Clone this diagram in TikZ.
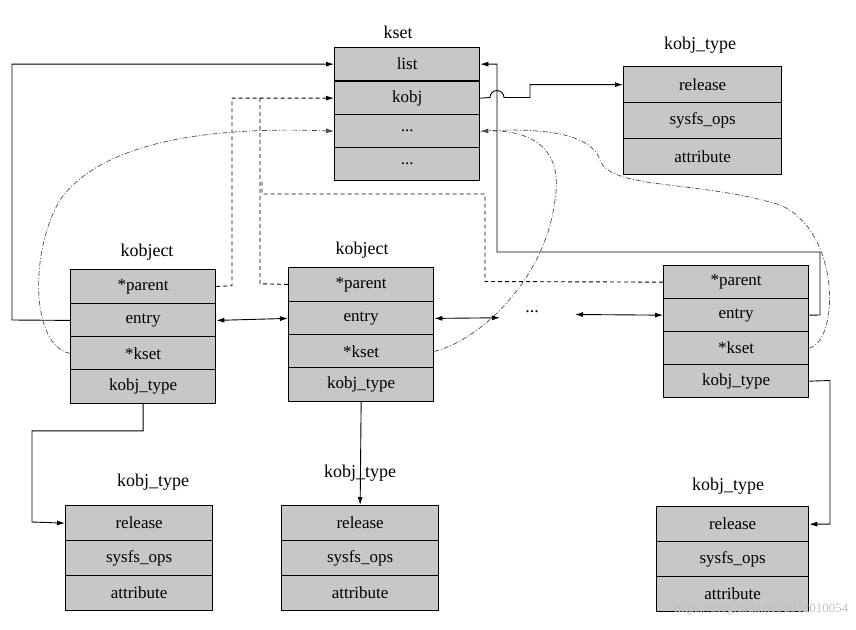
\documentclass[tikz,border=0pt]{standalone}
\usepackage{fontspec}
\setmainfont{Liberation Serif}
\usetikzlibrary{arrows.meta}
\def\tdots{...}
\begin{document}
\begin{tikzpicture}[x=1pt,y=-1pt,
 cell/.style={draw,line width=1.3pt,fill=black!22,anchor=north west,inner sep=0,font=\fontsize{17}{17}\selectfont},
 ttl/.style={font=\fontsize{18}{18}\selectfont},
 ln/.style={line width=0.9pt},
 ar/.style={ln,-{Latex[length=8pt,width=5pt]}},
 dar/.style={ln,{Latex[length=8pt,width=5pt]}-{Latex[length=8pt,width=5pt]}},
 dsh/.style={ln,dashed,dash pattern=on 4pt off 3pt},
 dd/.style={line width=0.7pt,black!70,dash pattern=on 5pt off 2pt on 1pt off 2pt}]
\useasboundingbox (0,0) rectangle (856,629);
% kset
\node[ttl] (tks) at (398,32) {kset};
\foreach \n/\t/\y in {kl/list/47,kk/kobj/81,kd1/\tdots/114,kd2/\tdots/147}
  \node[cell,minimum width=145,minimum height=33] (\n) at (334,\y) {\t};
% top kobj_type
\node[ttl] (tkt) at (700,45) {kobj\_type};
\foreach \n/\t/\y in {tr/release/66,ts/sysfs\_ops/102,ta/attribute/138}
  \node[cell,minimum width=158,minimum height=36] (\n) at (623,\y) {\t};
% kobjects
\node[ttl] (to1) at (147,252) {kobject};
\foreach \n/\t/\y in {a1/*parent/269,a2/entry/303,a3/*kset/336,a4/kobj\_type/369}
  \node[cell,minimum width=145,minimum height=33.5] (\n) at (70,\y) {\t};
\node[ttl] (to2) at (362,250) {kobject};
\foreach \n/\t/\y in {b1/*parent/267,b2/entry/301,b3/*kset/334,b4/kobj\_type/367}
  \node[cell,minimum width=145,minimum height=33.5] (\n) at (288,\y) {\t};
\foreach \n/\t/\y in {c1/*parent/265,c2/entry/298,c3/*kset/331,c4/kobj\_type/364}
  \node[cell,minimum width=145,minimum height=33] (\n) at (663,\y) {\t};
\node[ttl] (dots) at (532,312) {\tdots};
% bottom kobj_types
\node[ttl] (t1) at (153,482) {kobj\_type};
\foreach \n/\t/\y in {d1/release/505,d2/sysfs\_ops/540,d3/attribute/575}
  \node[cell,minimum width=147,minimum height=35] (\n) at (65,\y) {\t};
\node[ttl] (t2) at (360,473) {kobj\_type};
\foreach \n/\t/\y in {e1/release/505,e2/sysfs\_ops/540,e3/attribute/575}
  \node[cell,minimum width=157,minimum height=35] (\n) at (281,\y) {\t};
\node[ttl] (t3) at (728,486) {kobj\_type};
\foreach \n/\t/\y in {f1/release/506,f2/sysfs\_ops/541,f3/attribute/576}
  \node[cell,minimum width=152,minimum height=35] (\n) at (656,\y) {\t};
\node[text=black!25,font=\fontsize{13}{13}\selectfont,anchor=east] (wm) at (852,609) {https://blog.csdn.net/u012010054};
% solid connectors
\draw[ar] (a2.west) -- (12,320) |- (kl.west);
\draw[ar] (c2.east) -- (820,315) |- (497,252) |- (kl.east);
\draw[ar] (kk.east) -- (490,97.5) arc[start angle=180,end angle=360,radius=7] -- (530,97.5) |- (tr.west);
\draw[dar] (a2.east) -- (b2.west);
\draw[dar] (b2.east) -- (500,317.75);
\draw[dar] (575,314.5) -- (c2.west);
\draw[ar] (a4.south) -- ++(0,27) -| (32,522) -- (d1.west);
\draw[ar] (b4.south) -- (e1.north);
\draw[ar] (c4.east) -- (830,380.5) |- (f1.east);
% dashed parent
\draw[dsh,-{Latex[length=8pt,width=5pt]}] (a1.east) -- (232,285.75) |- (kk.west);
\draw[dsh] (b1.west) -- (260,283.75) -- (260,97.5);
\draw[dsh] (c1.west) -- (485,281.5) |- (262,194) -- (262,180);
% dash-dot kset
\draw[dd,-{Latex[length=8pt,width=5pt]}] (a3.west) .. controls (30,345) and (30,250) .. (60,200) .. controls (110,130) and (250,128) .. (kd1.west);
\draw[dd,-{Latex[length=8pt,width=5pt]}] (b3.east) .. controls (480,340) and (545,280) .. (555,200) .. controls (565,140) and (520,130) .. (kd1.east);
\draw[dd] (c3.east) .. controls (840,340) and (840,230) .. (780,205) .. controls (700,180) and (610,190) .. (600,160) .. controls (590,130) and (530,128) .. (kd1.east);
\end{tikzpicture}
\end{document}
